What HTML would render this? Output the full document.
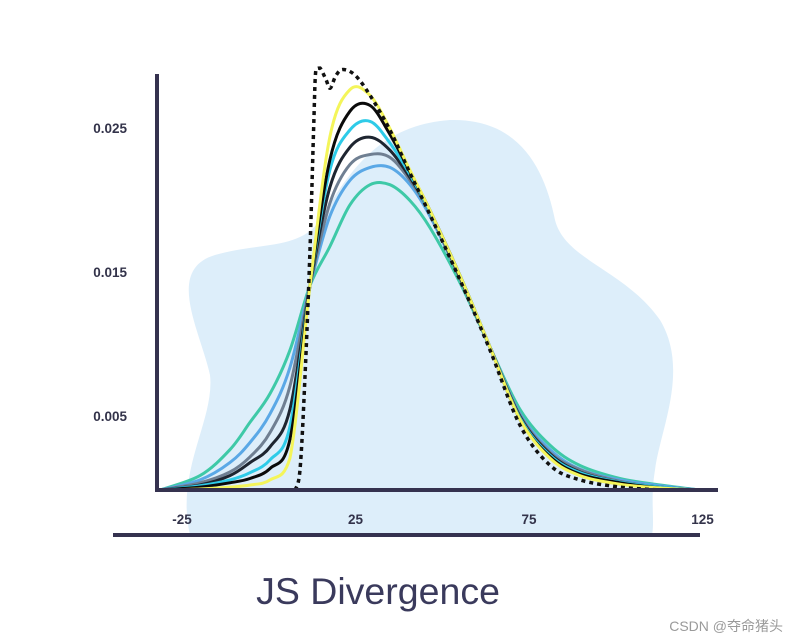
<!DOCTYPE html>
<html><head><meta charset="utf-8"><style>
html,body{margin:0;padding:0;background:#fff;}
svg{display:block;}
</style></head><body>
<svg id="chart" width="800" height="643" viewBox="0 0 800 643" xmlns="http://www.w3.org/2000/svg">
<path fill="#ddeefa" d="M190,535 C175,470 215,420 210,375 C200,330 165,270 215,255 C260,242 300,250 320,220 C350,170 380,125 450,120 C520,118 545,170 555,220 C565,260 625,270 660,320 C690,370 660,430 655,470 C650,500 655,520 652,535 Z"/>
<g id="marks"></g>
<line x1="157" y1="74" x2="157" y2="492" stroke="#35324f" stroke-width="4"/>
<line x1="155" y1="490" x2="718" y2="490" stroke="#35324f" stroke-width="4"/>
<line x1="113" y1="535" x2="700" y2="535" stroke="#35324f" stroke-width="4"/>
<g id="ticks" font-family="Liberation Sans, sans-serif" font-size="13.5" font-weight="bold" fill="#33334a"></g>
<text x="378" y="604" text-anchor="middle" font-family="Liberation Sans, sans-serif" font-size="37.5" fill="#3a3a5c">JS Divergence</text>
<text x="783" y="631" text-anchor="end" font-family="Liberation Sans, 'Noto Sans CJK SC', sans-serif" font-size="14" fill="#9a9a9a">CSDN @夺命猪头</text>
</svg>
<script>
const xGrid = [-31.3,-19.8,-11.2,-5.4,0.4,6.1,11.9,17.6,23.4,29.2,34.9,40.7,46.5,55.1,63.8,72.4,81.1,89.7,101.2,112.8,124.3];
const greenVals  = [0,1.0,2.8,4.7,6.7,9.7,14.2,16.9,19.8,21.2,21.2,20.1,18.2,14.4,9.9,5.6,3.1,1.7,0.8,0.35,0];
const blueVals   = [0,0.7,1.9,3.3,5.3,8.5,14.2,19.0,21.5,22.4,22.4,21.2,19.0,14.7,9.9,5.3,2.8,1.45,0.7,0.3,0];
const grayVals   = [0,0.5,1.25,2.3,4.0,7.2,14.2,19.9,22.6,23.3,23.1,21.5,19.2,14.7,9.9,5.2,2.6,1.4,0.6,0.2,0];
const navyVals   = [0,0.35,1.0,1.9,3.0,5.6,14.2,21.0,23.8,24.5,23.6,21.7,19.3,14.8,9.9,5.1,2.5,1.25,0.55,0.2,0];
const cyanVals   = [0,0.3,0.7,1.2,2.1,4.4,14.2,22.2,25.0,25.6,24.1,21.9,19.3,14.9,9.9,5.0,2.4,1.2,0.55,0.2,0];
const blackVals  = [0,0.2,0.5,0.8,1.5,3.5,14.2,22.9,26.3,26.7,24.7,22.1,19.4,14.9,9.9,4.9,2.3,1.1,0.5,0.14,0];
const yellowVals = [0,0.07,0.2,0.35,0.7,2.2,14.2,24.5,27.8,27.4,25.1,22.2,19.4,14.9,9.9,4.9,2.2,1.0,0.4,0.14,0];
const dottedX = [7.6,9.0,10.4,11.9,13.0,13.6,14.8,16.5,17.7,19.4,21.4,24.9,29.2,34.9,40.7,46.5,55.1,63.8,72.4,81.1,89.7,101.2,112.8];
const dottedVals = [0,1.4,7.6,16.7,25.7,29.2,29.3,28.5,27.9,28.8,29.2,28.8,27.4,25.0,22.0,19.1,14.6,9.7,4.5,1.7,0.7,0.2,0];
const xTicks = [-25,25,75,125];
const yTicks = [5,15,25];
const yTickLabels = ["0.005","0.015","0.025"];

function xs(v){return 182+(v+25)*3.47;}
function ys(d){return 490-d*14.4;}
const NS="http://www.w3.org/2000/svg";
function pathFrom(xa,ya){
  const p=xa.map((x,i)=>[xs(x),ys(ya[i])]);
  let d="M"+p[0][0].toFixed(1)+","+p[0][1].toFixed(1);
  for(let i=0;i<p.length-1;i++){
    const p0=p[i-1]||p[i],p1=p[i],p2=p[i+1],p3=p[i+2]||p2;
    let c1x=p1[0]+(p2[0]-p0[0])/6,c1y=p1[1]+(p2[1]-p0[1])/6;
    let c2x=p2[0]-(p3[0]-p1[0])/6,c2y=p2[1]-(p3[1]-p1[1])/6;
    const lo=Math.min(p1[1],p2[1]),hi=Math.max(p1[1],p2[1]);
    if(i<6){c1y=Math.min(Math.max(c1y,lo),hi);c2y=Math.min(Math.max(c2y,lo),hi);}
    d+=" C"+c1x.toFixed(1)+","+c1y.toFixed(1)+" "+c2x.toFixed(1)+","+c2y.toFixed(1)+" "+p2[0].toFixed(1)+","+p2[1].toFixed(1);
  }
  return d;
}
const marks=document.getElementById("marks");
const series=[
 ["curve-green",greenVals,"#3ec9a7"],
 ["curve-blue",blueVals,"#5aa8e6"],
 ["curve-gray",grayVals,"#6f7f92"],
 ["curve-navy",navyVals,"#1e2530"],
 ["curve-cyan",cyanVals,"#2ecbe8"],
 ["curve-black",blackVals,"#0a0a0a"],
 ["curve-yellow",yellowVals,"#f4f55a"]
];
series.forEach(s=>{
  const el=document.createElementNS(NS,"path");
  el.setAttribute("d",pathFrom(xGrid,s[1]));
  el.setAttribute("fill","none");
  el.setAttribute("stroke",s[2]);
  el.setAttribute("stroke-width","3");
  
  
  marks.appendChild(el);
});
const dot=document.createElementNS(NS,"path");
dot.setAttribute("d",pathFrom(dottedX,dottedVals));
dot.setAttribute("fill","none");
dot.setAttribute("stroke","#111");
dot.setAttribute("stroke-width","3.5");
dot.setAttribute("stroke-dasharray","4 4");


marks.appendChild(dot);

const ticks=document.getElementById("ticks");
xTicks.forEach(v=>{
  const t=document.createElementNS(NS,"text");
  t.setAttribute("x",xs(v));t.setAttribute("y",524);t.setAttribute("text-anchor","middle");
  t.textContent=String(v);
  
  
  ticks.appendChild(t);
});
yTicks.forEach((v,i)=>{
  const t=document.createElementNS(NS,"text");
  t.setAttribute("x",127);t.setAttribute("y",ys(v)+3);t.setAttribute("text-anchor","end");
  t.textContent=yTickLabels[i];
  
  
  ticks.appendChild(t);
});
</script>
</body></html>
